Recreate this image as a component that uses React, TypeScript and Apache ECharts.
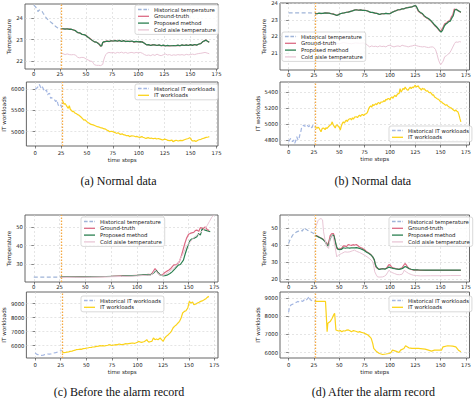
import React, { useEffect, useRef } from "react";
import * as echarts from "echarts";

// ---------------- shared ticks ----------------
const X_TICKS = [0, 25, 50, 75, 100, 125, 150, 175];
const SPLIT_X = 26.5;

// ---------------- panel (a) ----------------
const aHistT = [[0,24.6],[1,24.55],[2,24.5],[3,24.4],[4,24.3],[5,24.36],[6,24.38],[7,24.35],[8,24.3],[9,24.22],[10,24.15],[11,24.07],[12,24.0],[13,23.95],[14,23.9],[15,23.86],[16,23.82],[17,23.78],[18,23.74],[19,23.7],[20,23.65],[21,23.6],[22,23.57],[23,23.54],[24,23.52],[25,23.5],[26,23.5]];
const aGT = [[26,23.5],[28,23.49],[30,23.5],[32,23.48],[34,23.5],[36,23.47],[38,23.45],[40,23.4],[42,23.33],[44,23.3],[46,23.25],[48,23.22],[50,23.2],[52,23.1],[54,23.05],[56,22.95],[58,22.9],[60,22.87],[62,22.82],[63,22.75],[64,22.68],[65,22.72],[66,22.85],[67,22.9],[68,22.88],[70,22.94],[72,22.9],[74,22.95],[76,22.92],[78,22.96],[80,22.93],[82,22.95],[84,22.92],[86,22.94],[88,22.9],[90,22.93],[92,22.9],[94,22.92],[96,22.88],[98,22.9],[100,22.9],[102,22.88],[104,22.9],[106,22.82],[108,22.76],[110,22.75],[112,22.73],[114,22.76],[116,22.74],[118,22.73],[120,22.74],[122,22.72],[124,22.73],[126,22.71],[128,22.72],[130,22.7],[132,22.72],[134,22.71],[136,22.72],[138,22.73],[140,22.72],[142,22.74],[144,22.73],[146,22.74],[148,22.73],[150,22.75],[152,22.74],[154,22.76],[156,22.75],[158,22.78],[160,22.82],[162,22.9],[164,22.96],[165,22.98],[166,22.92],[168,22.88]];
const aPred = [[26,23.5],[28,23.5],[30,23.48],[32,23.5],[34,23.47],[36,23.48],[38,23.44],[40,23.41],[42,23.32],[44,23.31],[46,23.24],[48,23.23],[50,23.18],[52,23.11],[54,23.03],[56,22.96],[58,22.89],[60,22.88],[62,22.8],[63,22.77],[64,22.7],[65,22.7],[66,22.86],[67,22.89],[68,22.9],[70,22.92],[72,22.91],[74,22.94],[76,22.93],[78,22.95],[80,22.92],[82,22.96],[84,22.91],[86,22.95],[88,22.91],[90,22.92],[92,22.91],[94,22.93],[96,22.89],[98,22.91],[100,22.89],[102,22.9],[104,22.88],[106,22.83],[108,22.75],[110,22.76],[112,22.72],[114,22.75],[116,22.75],[118,22.72],[120,22.75],[122,22.71],[124,22.74],[126,22.7],[128,22.73],[130,22.71],[132,22.71],[134,22.72],[136,22.71],[138,22.74],[140,22.71],[142,22.75],[144,22.72],[146,22.75],[148,22.72],[150,22.76],[152,22.73],[154,22.77],[156,22.74],[158,22.79],[160,22.81],[162,22.91],[164,22.95],[165,22.97],[166,22.93],[168,22.87]];
const aCold = [[26,22.36],[28,22.34],[30,22.3],[32,22.33],[34,22.3],[36,22.29],[38,22.3],[40,22.28],[42,22.17],[44,22.15],[46,22.17],[48,22.16],[50,22.1],[52,22.05],[54,22.0],[56,21.98],[57,21.9],[58,21.83],[60,21.8],[62,21.8],[64,21.79],[66,21.84],[67,22.05],[68,22.2],[69,22.3],[70,22.36],[72,22.4],[74,22.38],[76,22.4],[78,22.36],[80,22.4],[82,22.38],[84,22.41],[86,22.37],[88,22.4],[90,22.36],[92,22.39],[94,22.4],[96,22.37],[98,22.4],[100,22.38],[102,22.4],[104,22.36],[106,22.3],[108,22.26],[110,22.28],[112,22.25],[114,22.3],[116,22.26],[118,22.32],[120,22.27],[122,22.25],[124,22.29],[126,22.33],[128,22.28],[130,22.3],[132,22.26],[134,22.29],[136,22.27],[138,22.3],[140,22.28],[142,22.3],[144,22.27],[146,22.31],[148,22.29],[150,22.3],[152,22.32],[154,22.3],[156,22.33],[158,22.35],[160,22.36],[162,22.38],[164,22.4],[166,22.37],[168,22.34]];
const aHistIT = [[0,6000],[1,6010],[2,6030],[3,6060],[4,6110],[5,6060],[6,6015],[7,6055],[8,6000],[9,5940],[10,5960],[11,5977],[12,5860],[13,5890],[14,5900],[15,5780],[16,5800],[17,5770],[18,5766],[19,5740],[20,5703],[21,5742],[22,5650],[23,5586],[24,5610],[25,5625],[26,5523]];
const aIT = [[26,5740],[27,5700],[28,5640],[29,5660],[30,5620],[31,5580],[32,5547],[33,5610],[34,5520],[35,5500],[36,5470],[37,5480],[38,5445],[40,5420],[41,5400],[42,5390],[44,5350],[46,5300],[47,5270],[48,5280],[50,5234],[52,5200],[54,5170],[56,5160],[58,5140],[60,5117],[62,5105],[63,5094],[65,5085],[66,5070],[68,5060],[69,5040],[70,5030],[72,5000],[74,5010],[76,4990],[78,4970],[79,4961],[80,4975],[82,4938],[84,4950],[85,4930],[87,4920],[88,4906],[90,4910],[91,4883],[93,4900],[95,4898],[97,4880],[98,4890],[100,4870],[101,4867],[103,4885],[104,4870],[106,4850],[107,4844],[109,4860],[111,4840],[112,4850],[114,4835],[116,4845],[117,4828],[119,4840],[120,4830],[122,4815],[123,4805],[125,4825],[127,4810],[128,4795],[130,4789],[132,4800],[133,4766],[135,4790],[136,4800],[138,4780],[140,4795],[142,4790],[144,4810],[146,4828],[148,4840],[149,4860],[150,4845],[151,4800],[152,4781],[154,4790],[155,4770],[157,4800],[158,4810],[160,4820],[161,4835],[163,4850],[165,4867],[167,4875],[168,4883]];

// ---------------- panel (b) ----------------
const bHistT = [[0,23.42],[5,23.42],[10,23.42],[15,23.42],[20,23.42],[26,23.41]];
const bGT = [[26,23.36],[28,23.38],[30,23.4],[32,23.38],[34,23.4],[36,23.41],[38,23.42],[40,23.4],[42,23.38],[44,23.36],[46,23.3],[47.5,23.26],[49,23.32],[51,23.38],[53,23.4],[55,23.43],[57,23.45],[59,23.48],[61,23.5],[63,23.55],[65,23.6],[67,23.6],[69,23.59],[71,23.6],[73,23.58],[75,23.57],[77,23.56],[79,23.5],[81,23.46],[83,23.44],[85,23.42],[87,23.4],[89,23.34],[90,23.32],[92,23.38],[94,23.36],[96,23.4],[98,23.37],[100,23.38],[102,23.46],[104,23.5],[106,23.56],[108,23.6],[110,23.62],[112,23.66],[114,23.68],[116,23.72],[118,23.75],[120,23.76],[122,23.8],[124,23.84],[125,23.87],[126,23.8],[127,23.65],[128,23.52],[130,23.42],[132,23.36],[134,23.2],[136,23.12],[138,23.06],[140,22.95],[142,22.82],[144,22.66],[146,22.55],[148,22.4],[149.5,22.3],[151,22.4],[152.5,22.56],[154,22.76],[156,22.82],[157,22.9],[159,22.95],[160.5,23.16],[162,23.3],[163.5,23.66],[165,23.62],[167,23.58],[168.5,23.5],[170,23.45]];
const bPred = [[26,23.37],[28,23.37],[30,23.41],[32,23.39],[34,23.39],[36,23.42],[38,23.41],[40,23.41],[42,23.37],[44,23.35],[46,23.31],[47.5,23.27],[49,23.3],[51,23.37],[53,23.41],[55,23.42],[57,23.46],[59,23.47],[61,23.51],[63,23.54],[65,23.59],[67,23.61],[69,23.58],[71,23.6],[73,23.57],[75,23.58],[77,23.55],[79,23.51],[81,23.45],[83,23.45],[85,23.41],[87,23.39],[89,23.35],[90,23.33],[92,23.37],[94,23.37],[96,23.39],[98,23.38],[100,23.37],[102,23.45],[104,23.51],[106,23.55],[108,23.61],[110,23.61],[112,23.67],[114,23.67],[116,23.73],[118,23.74],[120,23.77],[122,23.79],[124,23.85],[125,23.86],[126,23.82],[127,23.7],[128,23.56],[130,23.45],[132,23.38],[134,23.24],[136,23.14],[138,23.08],[140,22.98],[142,22.85],[144,22.7],[146,22.58],[148,22.44],[149.5,22.32],[150.5,22.26],[152,22.38],[153.5,22.6],[155,22.74],[156.5,22.8],[158,22.88],[159.5,22.92],[161,23.1],[162.5,23.25],[164,23.6],[165.5,23.64],[167,23.56],[168.5,23.52],[170,23.46]];
const bCold = [[26,21.55],[30,21.6],[34,21.5],[38,21.58],[42,21.52],[46,21.6],[50,21.55],[54,21.62],[58,21.58],[62,21.55],[66,21.6],[70,21.58],[74,21.6],[76,21.56],[78,21.45],[80,21.36],[82,21.42],[84,21.38],[86,21.4],[88,21.36],[90,21.42],[92,21.38],[94,21.4],[96,21.36],[98,21.44],[100,21.46],[102,21.4],[104,21.36],[106,21.4],[108,21.42],[110,21.38],[112,21.46],[114,21.42],[116,21.4],[118,21.36],[120,21.4],[122,21.42],[124,21.46],[126,21.44],[128,21.4],[130,21.38],[132,21.36],[134,21.38],[136,21.34],[138,21.32],[140,21.35],[142,21.36],[143,21.34],[145,21.2],[146.5,20.9],[148,20.55],[150,20.27],[151.5,20.4],[152.5,20.5],[154,20.76],[156,20.84],[157,20.9],[159,21.0],[160.5,21.16],[162,21.35],[163.7,21.56],[165,21.66],[167,21.64],[168.5,21.68],[170,21.66]];
const bHistIT = [[0,4780],[1,4800],[2,4820],[3,4790],[4,4780],[5,4800],[6,4758],[7,4790],[8,4841],[9,4810],[10,4800],[11,4860],[12,4903],[13,4965],[14,4975],[15,4986],[16,4970],[17,4985],[18,4994],[19,4975],[20,4965],[21,4986],[22,4970],[23,4953],[24,4985],[25,4970],[26,4965]];
const bIT = [[26,4965],[27,4958],[28,4945],[29,4960],[30,4950],[31,4925],[32,4903],[33,4940],[34,4950],[35,4945],[36,4930],[37,4955],[38,4945],[39,4960],[40,4975],[41,4986],[42,4995],[43,5027],[44,4990],[45,4970],[46,4950],[47,4985],[48,4990],[49,4970],[50,4960],[51,4924],[52,4975],[53,5007],[54,5027],[55,5010],[56,5035],[57,5048],[58,5030],[59,5055],[61,5069],[62,5050],[63,5077],[64,5060],[65,5085],[67,5090],[68,5080],[69,5100],[70,5110],[71,5095],[72,5115],[73,5118],[74,5105],[75,5120],[77,5131],[78,5152],[79,5190],[80,5214],[81,5225],[82,5210],[83,5243],[84,5230],[86,5255],[87,5240],[88,5262],[89,5268],[90,5250],[91,5272],[93,5276],[94,5290],[95,5280],[96,5309],[97,5300],[98,5318],[99,5317],[100,5300],[101,5330],[102,5338],[103,5320],[104,5345],[105,5359],[106,5340],[107,5365],[108,5380],[109,5379],[110,5441],[111,5400],[112,5420],[113,5445],[114,5430],[115,5462],[116,5440],[117,5425],[118,5421],[119,5445],[120,5460],[121,5440],[122,5462],[123,5450],[124,5470],[125,5483],[126,5460],[127,5470],[128,5475],[129,5450],[130,5440],[131,5421],[132,5445],[133,5435],[134,5440],[135,5420],[136,5410],[137,5415],[138,5400],[139,5390],[140,5395],[141,5379],[142,5360],[143,5365],[144,5338],[145,5330],[146,5320],[147,5310],[148,5309],[149,5290],[150,5280],[151,5276],[152,5260],[153,5255],[154,5243],[155,5235],[156,5240],[157,5226],[158,5215],[159,5210],[160,5201],[161,5195],[162,5180],[163,5172],[164,5160],[165,5175],[166,5160],[167,5152],[168,5120],[169,5070],[170,5027]];

// ---------------- panel (c) ----------------
const cHistT = [[0,22.9],[5,22.9],[10,22.9],[15,22.9],[20,22.9],[26,22.9]];
const cGT = [[26,22.9],[35,22.95],[45,23.05],[55,23.15],[65,23.25],[75,23.4],[85,23.6],[95,23.8],[105,24.1],[111,24.4],[113,24.3],[114.5,24.9],[117.5,27.6],[119,26.5],[120.5,25.2],[122.5,24.1],[124,24],[125.5,24.6],[127,25.5],[129,26.2],[131,26.8],[133,27.8],[135.5,29.5],[138.5,29.8],[141,31.3],[143,34.5],[145,38.5],[146.5,41.5],[148,44],[150,46.2],[151.6,46.7],[153,47],[155,47.3],[156.5,48.2],[158,48.5],[159.8,47.8],[161.4,49.8],[163,49.6],[164,49.2],[165,49.8],[166,50.2],[167,49.6],[168,48.8],[170,48.2]];
const cPred = [[26,22.9],[40,23.0],[55,23.15],[70,23.3],[85,23.55],[100,23.9],[110,24.3],[113,24.2],[116,25.1],[118.5,26.6],[120.5,25.3],[122.5,24.2],[125,23.7],[127,23.8],[129,24.0],[132,24.9],[134,25.8],[137,27.6],[140,29.5],[142,29.8],[145,32.2],[146.7,35.5],[148.4,38.5],[150,41],[151.6,43],[153.5,43.8],[155,44],[158,44.9],[159.8,46.7],[161.4,45.8],[163,49],[164.5,48.8],[166,48.5],[168.5,48],[171,47.6]];
const cCold = [[26,22.7],[40,22.8],[55,22.95],[70,23.1],[85,23.3],[100,23.6],[110,24.0],[113,24.0],[115,24.6],[117.5,26.8],[119.5,25.5],[122,24.1],[125,23.9],[128,24.6],[131,25.8],[134,27.2],[137,28.5],[140,30.5],[142.5,33.5],[145,35.8],[147.5,39.5],[151.6,42],[155,44.5],[158,45.8],[160,46.3],[163,48],[166,49.5],[168,51],[170,53],[172.5,55.5],[174,56.5]];
const cHistIT = [[0,5476],[1,5420],[2,5380],[3,5357],[5,5330],[6,5310],[8,5330],[9,5357],[11,5380],[12,5406],[14,5400],[15,5406],[17,5440],[18,5476],[20,5500],[21,5520],[23,5580],[25,5644],[26,5680]];
const cIT = [[26,5550],[27,5530],[28,5500],[30,5520],[31,5540],[33,5560],[34,5597],[36,5610],[37,5640],[39,5680],[40,5716],[42,5730],[44,5760],[45,5740],[47,5787],[49,5800],[50,5834],[52,5850],[53,5870],[55,5880],[56,5906],[58,5920],[60,5953],[62,5970],[63,6001],[65,5990],[66,6001],[68,5980],[69,6010],[71,6030],[72,6072],[74,6040],[75,6025],[77,6050],[79,6072],[80,6060],[82,6120],[84,6080],[85,6072],[87,6110],[88,6144],[90,6130],[91,6144],[93,6170],[95,6191],[97,6170],[98,6191],[100,6250],[101,6310],[103,6250],[104,6240],[106,6280],[107,6310],[109,6430],[110,6330],[111,6260],[113,6300],[114,6310],[115.5,6549],[117,6430],[118.5,6480],[120,6430],[122,6549],[123.4,6430],[125,6310],[126.6,6549],[128,6668],[130,6787],[131.5,6900],[133,7025],[134.6,7263],[136,7382],[138,7500],[139.4,7620],[141,7739],[142.5,7977],[144,8334],[145.7,8453],[147.3,8500],[149,8690],[150.5,9167],[152,9048],[153.7,9119],[155,8929],[157,8980],[158.4,9048],[160,9100],[161.6,9167],[163,9200],[165,9286],[167,9380],[168,9452],[169.6,9524]];

// ---------------- panel (d) ----------------
const dHistT = [[0,41.1],[1,42.8],[2.3,44.1],[3.5,45.5],[4.5,46.4],[6,47.2],[7,47.6],[8.5,48.1],[9.7,48.4],[11,48.8],[12,49],[13.5,48.4],[15.2,50.4],[16.8,49.6],[18.4,49],[20,48.5],[21.6,48],[23,47.6],[25,47],[26.5,46]];
const dGT = [[26.5,46],[28,45.6],[29.7,45],[31,44.6],[33,44],[34.5,43.3],[36,42.5],[37.5,41.3],[38.7,40.1],[40,43],[41,45.7],[42.6,47],[44.2,47],[45,45.5],[45.8,43.1],[46.7,40.5],[47.5,38.2],[49,37.8],[50.5,38],[52.3,38.2],[54,39.7],[56,39.5],[57,39.2],[58.8,40.5],[60.5,40.2],[62,40],[63.5,40.4],[65,40.1],[66.8,40.5],[68.5,39.8],[70,39],[71.5,38.6],[73,38.2],[75,37.4],[76.5,36.6],[78,35.9],[79.8,35.2],[81.5,34.3],[83,33.2],[84.6,31.3],[85.3,29.5],[86,27.3],[87.5,26.5],[89.4,25.9],[91,26.2],[92.7,26.3],[94.5,26.2],[96,26.3],[97.5,27.3],[99,28.7],[100.5,28.2],[101.5,27.2],[103.3,26.7],[105.6,26.3],[107,26.2],[108.8,25.9],[110.5,26.4],[112,26.7],[113.3,28],[114.8,29.3],[116,28.6],[117.3,27.3],[119,26.4],[120.5,25.9],[123.3,25.4],[126,25.5],[130,25.2],[135,25.3],[140,25.3],[145,25.3],[150,25.2],[155,25.3],[160,25.2],[165,25.3],[170,25.2]];
const dPred = [[26.5,46],[28,45.4],[30,44.8],[32,44.2],[34,43.4],[36,42.2],[37.5,40.6],[39,39.6],[40.5,42.8],[42,45.4],[43.5,46.2],[44.8,45.5],[46,42.5],[47.2,39.5],[48.5,37.8],[50,37.5],[52,37.6],[54,38.6],[56,38.3],[58,38.6],[60,38.4],[62,38.5],[64,38.6],[65,38.5],[67,38.7],[69,38.4],[71,38],[73,37.5],[75,36.8],[77,36],[79,35.3],[81,34.5],[83,33.2],[84.6,31.5],[85.5,29],[86.5,27.5],[88,26.4],[89.4,25.8],[91,26],[93,26.2],[95,26],[97,26.5],[99,27.2],[101,26.8],[103,26.4],[105,26.2],[107,26],[109,25.8],[111,26.1],[113,26.6],[115,27.5],[117,27],[119,26.2],[121,25.9],[124,25.6],[128,25.5],[135,25.4],[145,25.4],[155,25.4],[165,25.4],[170,25.4]];
const dCold = [[26,50],[27.5,52],[29,54.5],[30.5,55.5],[32,55.8],[33.5,55],[34.5,48],[36,43],[37.8,39.2],[39.4,38.2],[41,44],[42.6,46],[44,45],[45.8,39.2],[47.5,33.2],[49,34.2],[52.3,35.2],[55.5,36.2],[58,36],[60.4,36.2],[63,36.8],[65,37.2],[67,36.5],[70,35.8],[72.5,35],[75,34.2],[77.5,33.2],[79.8,32.2],[81.5,31.3],[83,30.3],[84,28],[85,24.4],[86.5,22.6],[87.8,21.4],[90,21.3],[92.7,21.4],[94.5,21.8],[96,22.4],[97.5,23.8],[99,25.3],[100.5,24.6],[102,24],[104.5,23.4],[107,22.8],[109.5,22.7],[112,23],[113.3,24.2],[114,25.3],[116,24.4],[118.5,23.4],[121,22.8],[123,22.4],[126,22.2],[130,22],[140,22.1],[150,22.1],[160,22.2],[170,22.2]];
const dHistIT = [[0,8222],[1,8537],[2.6,8630],[4.2,8667],[5.8,8722],[7.4,8760],[9,8815],[10.6,8780],[12.2,8852],[13.9,8815],[15.5,8907],[17,8852],[18.7,8963],[20.3,9093],[21.3,8907],[23.5,8852],[25,8815],[26,8815]];
const dIT = [[26,8815],[30,8815],[34,8815],[36.4,8815],[37.4,7800],[38,7150],[38.7,7612],[41,7705],[43,7890],[44.5,8075],[45.4,8167],[46.7,7243],[49.3,7187],[51,7210],[52.5,7150],[54,7200],[55.7,7187],[57,7230],[59,7243],[60.5,7200],[62,7150],[64,7210],[65.4,7187],[67,7160],[68.6,7113],[70,7150],[71.9,7113],[73.5,7090],[75,7057],[78.3,6965],[80,6872],[81.5,6780],[83,6502],[84,6225],[86.4,6077],[89.6,5947],[92.8,5892],[96,5920],[99,5947],[101,6003],[102.5,6132],[105.7,6077],[109,6003],[110.5,6132],[113.8,6225],[115.4,6373],[118.6,6262],[121.8,6225],[128,6225],[134.7,6188],[138,6132],[141,6077],[144,6132],[150.8,6132],[152.4,6317],[157,6373],[162,6355],[165,6317],[167.6,6132],[170,6040]];

// ---------------- tick labels ----------------
const aT_TICKS = [22, 23, 24];
const aI_TICKS = [5000, 5500, 6000];
const bT_TICKS = [21, 22, 23, 24];
const bI_TICKS = [4800, 5000, 5200, 5400];
const cT_TICKS = [30, 40, 50];
const cI_TICKS = [6000, 7000, 8000, 9000];
const dT_TICKS = [20, 30, 40, 50];
const dI_TICKS = [6000, 7000, 8000, 9000];

const CAPTIONS = ["(a) Normal data", "(b) Normal data", "(c) Before the alarm record", "(d) After the alarm record"];

const N_HT = "Historical temperature";
const N_GT = "Ground-truth";
const N_PR = "Proposed method";
const N_CO = "Cold aisle temperature";
const N_HI = "Historical IT workloads";
const N_IT = "IT workloads";

const C_HT = "#9fb4d8";
const C_GT = "#dc6b84";
const C_PR = "#2b8050";
const C_CO = "#e9c6d6";
const C_HI = "#a3b6e2";
const C_IT = "#fbd31a";
const C_SPLIT = "#f5a840";

const FONT = "'DejaVu Sans', sans-serif";
const ICON_SOLID = "path://M0,0h11v1.3h-11z";
const ICON_DASH = "path://M0,0h3.6v1.3h-3.6zM5.4,0h3.6v1.3h-3.6zM10.4,0h0.6v1.3h-0.6z";

type Panel = {
  kind: "T" | "I";
  series: number[][][];
  yMin: number; yMax: number; yTicks: number[];
  xMin: number; xMax: number;
  grid: { left: number; top: number; width: number; height: number };
  legend: { left: number; top: number };
  nameGap: number;
  labelMargin: number;
};

const PANELS: Panel[] = [
  { kind: "T", series: [aHistT, aGT, aPred, aCold], yMin: 21.63, yMax: 24.65, yTicks: aT_TICKS, xMin: -8.4, xMax: 176.4,
    grid: { left: 25, top: 4, width: 193, height: 65 }, legend: { left: 135, top: 5 }, nameGap: 10, labelMargin: 2 },
  { kind: "I", series: [aHistIT, aIT], yMin: 4664, yMax: 6164, yTicks: aI_TICKS, xMin: -8.4, xMax: 176.4,
    grid: { left: 25, top: 82, width: 193, height: 64 }, legend: { left: 135, top: 84 }, nameGap: 15, labelMargin: 4 },
  { kind: "T", series: [bHistT, bGT, bPred, bCold], yMin: 19.96, yMax: 24.02, yTicks: bT_TICKS, xMin: -8.5, xMax: 178.5,
    grid: { left: 280, top: 3, width: 193, height: 67 }, legend: { left: 282, top: 32 }, nameGap: 10, labelMargin: 2 },
  { kind: "I", series: [bHistIT, bIT], yMin: 4738, yMax: 5524, yTicks: bI_TICKS, xMin: -8.5, xMax: 178.5,
    grid: { left: 280, top: 82, width: 193, height: 63 }, legend: { left: 389, top: 126 }, nameGap: 17, labelMargin: 4 },
  { kind: "T", series: [cHistT, cGT, cPred, cCold], yMin: 20.3, yMax: 56.7, yTicks: cT_TICKS, xMin: -8.5, xMax: 178.5,
    grid: { left: 25, top: 215, width: 193, height: 67 }, legend: { left: 81, top: 217 }, nameGap: 10, labelMargin: 2 },
  { kind: "I", series: [cHistIT, cIT], yMin: 5121, yMax: 9836, yTicks: cI_TICKS, xMin: -8.5, xMax: 178.5,
    grid: { left: 25, top: 292, width: 193, height: 66 }, legend: { left: 81, top: 296 }, nameGap: 15, labelMargin: 4 },
  { kind: "T", series: [dHistT, dGT, dPred, dCold], yMin: 18.4, yMax: 57.9, yTicks: dT_TICKS, xMin: -8.5, xMax: 178.5,
    grid: { left: 280, top: 215, width: 193, height: 67 }, legend: { left: 389, top: 217 }, nameGap: 8, labelMargin: 2 },
  { kind: "I", series: [dHistIT, dIT], yMin: 5700, yMax: 9333, yTicks: dI_TICKS, xMin: -8.5, xMax: 178.5,
    grid: { left: 280, top: 292, width: 193, height: 66 }, legend: { left: 389, top: 296 }, nameGap: 17, labelMargin: 4 },
];

const CAPTION_POS = [
  { x: 118.5, y: 181 },
  { x: 372.8, y: 181 },
  { x: 119, y: 391.5 },
  { x: 373.3, y: 391.5 },
];

function buildOption() {
  const grids: any[] = [];
  const xAxes: any[] = [];
  const yAxes: any[] = [];
  const series: any[] = [];
  const legends: any[] = [];

  PANELS.forEach((p, g) => {
    grids.push({ ...p.grid, show: true, borderColor: "#555", borderWidth: 0.9, backgroundColor: "#fff", containLabel: false });
    xAxes.push({
      type: "value", gridIndex: g, min: p.xMin, max: p.xMax,
      name: p.kind === "I" ? "time steps" : "", nameLocation: "middle", nameGap: 10.5,
      nameTextStyle: { fontSize: 5.5, fontFamily: FONT, color: "#222" },
      axisLine: { show: false },
      axisTick: { show: true, length: 2.5, customValues: X_TICKS, lineStyle: { color: "#333", width: 0.6 } },
      axisLabel: { customValues: X_TICKS, fontSize: 5.3, fontFamily: FONT, color: "#222", margin: p.labelMargin, formatter: (v: number) => String(v) },
      splitLine: { show: true, lineStyle: { color: "#d4d4d4", type: [2, 2], width: 0.6 } },
    });
    yAxes.push({
      type: "value", gridIndex: g, min: p.yMin, max: p.yMax,
      name: p.kind === "T" ? "Temperature" : "IT workloads", nameLocation: "middle", nameGap: p.nameGap,
      nameTextStyle: { fontSize: 5.6, fontFamily: FONT, color: "#222" },
      axisLine: { show: false },
      axisTick: { show: true, length: 2.5, customValues: p.yTicks, lineStyle: { color: "#333", width: 0.6 } },
      axisLabel: { customValues: p.yTicks, fontSize: 5.3, fontFamily: FONT, color: "#222", margin: 2, formatter: (v: number) => String(v) },
      splitLine: { show: true, lineStyle: { color: "#d4d4d4", type: [2, 2], width: 0.6 } },
    });

    const mk = {
      silent: true, symbol: ["none", "none"], label: { show: false },
      lineStyle: { color: C_SPLIT, type: [1.5, 1.5], width: 1.3 },
      data: [{ xAxis: SPLIT_X }],
    };
    const base = { type: "line", xAxisIndex: g, yAxisIndex: g, symbol: "none", showSymbol: false, clip: true };
    if (p.kind === "T") {
      const [h, gt, pr, co] = p.series;
      series.push({ ...base, name: N_HT, data: h, itemStyle: { color: C_HT }, lineStyle: { color: C_HT, width: 1.2, type: [4, 2.5] }, markLine: mk, z: 3 });
      series.push({ ...base, name: N_GT, data: gt, itemStyle: { color: C_GT }, lineStyle: { color: C_GT, width: 1.2 }, z: 3 });
      series.push({ ...base, name: N_PR, data: pr, itemStyle: { color: C_PR }, lineStyle: { color: C_PR, width: 1.2 }, z: 3 });
      series.push({ ...base, name: N_CO, data: co, itemStyle: { color: C_CO }, lineStyle: { color: C_CO, width: 1 }, z: 3 });
      legends.push(makeLegend(p, [[N_HT, ICON_DASH], [N_GT, ICON_SOLID], [N_PR, ICON_SOLID], [N_CO, ICON_SOLID]]));
    } else {
      const [h, it] = p.series;
      series.push({ ...base, name: N_HI, data: h, itemStyle: { color: C_HI }, lineStyle: { color: C_HI, width: 1.2, type: [4, 2.5] }, markLine: mk, z: 3 });
      series.push({ ...base, name: N_IT, data: it, itemStyle: { color: C_IT }, lineStyle: { color: C_IT, width: 1.2 }, z: 3 });
      legends.push(makeLegend(p, [[N_HI, ICON_DASH], [N_IT, ICON_SOLID]]));
    }
  });

  const graphic = CAPTIONS.map((t, i) => ({
    type: "text", x: CAPTION_POS[i].x, y: CAPTION_POS[i].y,
    style: { text: t, fontSize: 12, fontFamily: "'Liberation Serif', serif", fill: "#111", align: "center", verticalAlign: "middle" },
  }));

  return {
    animation: false,
    backgroundColor: "#fff",
    grid: grids, xAxis: xAxes, yAxis: yAxes, series, legend: legends, graphic,
  };
}

function makeLegend(p: Panel, items: string[][]) {
  return {
    left: p.legend.left, top: p.legend.top, orient: "vertical",
    data: items.map(([name, icon]) => ({ name, icon })),
    itemWidth: 11, itemHeight: 1.3, itemGap: 1.8, padding: [2, 3, 2, 3],
    selectedMode: false,
    textStyle: { fontSize: 5.4, fontFamily: FONT, color: "#222" },
    backgroundColor: "rgba(255,255,255,0.8)", borderColor: "#cfcfcf", borderWidth: 0.8, borderRadius: 2,
    z: 5,
  };
}

export default function App() {
  const ref = useRef<HTMLDivElement>(null);
  useEffect(() => {
    document.body.style.margin = "0";
    const chart = echarts.init(ref.current!, null, { renderer: "svg" });
    chart.setOption(buildOption() as any);
    return () => chart.dispose();
  }, []);
  return <div ref={ref} style={{ width: 474, height: 398, position: "absolute", left: 0, top: 0 }} />;
}
